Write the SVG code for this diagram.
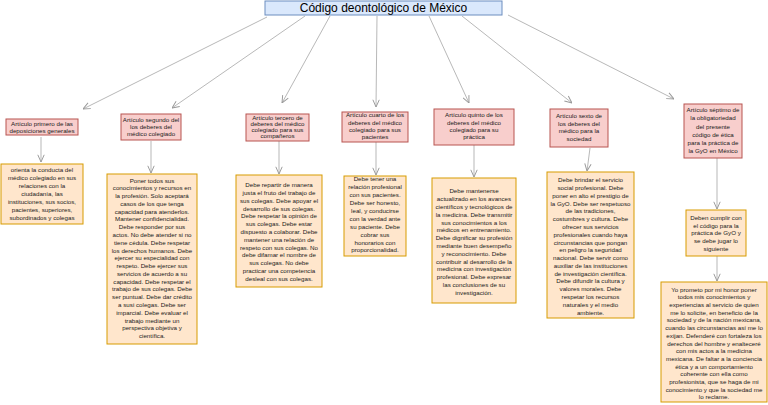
<svg xmlns="http://www.w3.org/2000/svg" width="768" height="405" viewBox="0 0 768 405">
<defs>
<marker id="arr" viewBox="0 0 10 10" refX="10" refY="5" markerWidth="8" markerHeight="8" markerUnits="userSpaceOnUse" orient="auto">
<path d="M1,1 L10,5 L1,9" fill="none" stroke="#999" stroke-width="1.2"/>
</marker>
<style>
.t{font-family:"Liberation Sans",Arial,sans-serif;font-size:6.2px;fill:#1a1a1a;text-anchor:middle}
.title{font-family:"Liberation Sans",Arial,sans-serif;font-size:12px;fill:#000;text-anchor:middle}
.pink{fill:#f8cecc;stroke:#b85450;stroke-width:1}
.org{fill:#ffe6cc;stroke:#d79b00;stroke-width:1}
.blue{fill:#dae8fc;stroke:#6c8ebf;stroke-width:1}
.c{fill:none;stroke:#999;stroke-width:0.7;marker-end:url(#arr)}
</style>
</defs>
<rect width="768" height="405" fill="#fff"/>
<g id="connectors">
<line class="c" x1="267" y1="17" x2="83" y2="109"/>
<line class="c" x1="305" y1="16" x2="172" y2="108"/>
<line class="c" x1="330" y1="16" x2="282" y2="103"/>
<line class="c" x1="377" y1="16" x2="376" y2="107"/>
<line class="c" x1="429" y1="16" x2="469" y2="103"/>
<line class="c" x1="462" y1="16" x2="572" y2="103"/>
<line class="c" x1="508" y1="15" x2="674" y2="99"/>
<line class="c" x1="41" y1="137" x2="41" y2="162"/>
<line class="c" x1="151" y1="141" x2="151" y2="173"/>
<line class="c" x1="279" y1="141" x2="279" y2="174"/>
<line class="c" x1="376" y1="142" x2="376" y2="175"/>
<line class="c" x1="474" y1="145" x2="474" y2="177"/>
<line class="c" x1="590" y1="148" x2="587" y2="171"/>
<line class="c" x1="717" y1="158" x2="717" y2="209"/>
<line class="c" x1="717" y1="256" x2="717" y2="281"/>
</g>
<g id="title">
<rect class="blue" x="265" y="1" width="237" height="14"/>
<text class="title" x="383.5" y="12.3">Código deontológico de México</text>
</g>
<g id="art1">
<rect class="pink" x="6" y="119" width="72" height="16"/>
<text class="t" x="42" y="125.5">Artículo primero de las</text>
<text class="t" x="42" y="133.3">deposiciones generales</text>
</g>
<g id="art1-body">
<rect class="org" x="1" y="164" width="82" height="60"/>
<text class="t" x="42" y="172.4">orienta la conducta del<tspan x="42" dy="7.9">médico colegiado en sus</tspan><tspan x="42" dy="7.9">relaciones con la</tspan><tspan x="42" dy="7.9">ciudadanía, las</tspan><tspan x="42" dy="7.9">instituciones, sus socios,</tspan><tspan x="42" dy="7.9">pacientes, superiores,</tspan><tspan x="42" dy="7.9">subordinados y colegas</tspan></text>
</g>
<g id="art2">
<rect class="pink" x="121" y="114" width="60" height="26"/>
<text class="t" x="151" y="122.3">Artículo segundo del<tspan x="151" dy="7">los deberes del</tspan><tspan x="151" dy="7">médico colegiado</tspan></text>
</g>
<g id="art2-body">
<rect class="org" x="107" y="174" width="90" height="170"/>
<text class="t" x="152" y="182.5">Poner todos sus<tspan x="152" dy="7.78">conocimientos y recursos en</tspan><tspan x="152" dy="7.78">la profesión. Solo aceptará</tspan><tspan x="152" dy="7.78">casos de los que tenga</tspan><tspan x="152" dy="7.78">capacidad para atenderlos.</tspan><tspan x="152" dy="7.78">Mantener confidencialidad.</tspan><tspan x="152" dy="7.78">Debe responder por sus</tspan><tspan x="152" dy="7.78">actos. No debe atender si no</tspan><tspan x="152" dy="7.78">tiene cédula. Debe respetar</tspan><tspan x="152" dy="7.78">los derechos humanos. Debe</tspan><tspan x="152" dy="7.78">ejercer su especialidad con</tspan><tspan x="152" dy="7.78">respeto. Debe ejercer sus</tspan><tspan x="152" dy="7.78">servicios de acuerdo a su</tspan><tspan x="152" dy="7.78">capacidad. Debe respetar el</tspan><tspan x="152" dy="7.78">trabajo de sus colegas. Debe</tspan><tspan x="152" dy="7.78">ser puntual.  Debe dar crédito</tspan><tspan x="152" dy="7.78">a susi colegas. Debe ser</tspan><tspan x="152" dy="7.78">imparcial. Debe evaluar el</tspan><tspan x="152" dy="7.78">trabajo mediante un</tspan><tspan x="152" dy="7.78">perspectiva objetiva y</tspan><tspan x="152" dy="7.78">científica.</tspan></text>
</g>
<g id="art3">
<rect class="pink" x="246" y="114" width="63" height="27"/>
<text class="t" x="277.5" y="119.5">Artículo tercero de<tspan x="277.5" dy="6.1">deberes del médico</tspan><tspan x="277.5" dy="6.1">colegiado para sus</tspan><tspan x="277.5" dy="6.1">compañeros</tspan></text>
</g>
<g id="art3-body">
<rect class="org" x="236" y="175" width="86" height="112"/>
<text class="t" x="279" y="187.3">Debe repartir de manera<tspan x="279" dy="7.78">justa el fruto del trabajo de</tspan><tspan x="279" dy="7.78">sus colegas. Debe apoyar el</tspan><tspan x="279" dy="7.78">desarrollo de sus colegas.</tspan><tspan x="279" dy="7.78">Debe respetar la opinión de</tspan><tspan x="279" dy="7.78">sus colegas. Debe estar</tspan><tspan x="279" dy="7.78">dispuesto a colaborar. Debe</tspan><tspan x="279" dy="7.78">mantener una relación de</tspan><tspan x="279" dy="7.78">respeto con sus colegas. No</tspan><tspan x="279" dy="7.78">debe difamar el nombre de</tspan><tspan x="279" dy="7.78">sus colegas. No debe</tspan><tspan x="279" dy="7.78">practicar una competencia</tspan><tspan x="279" dy="7.78">desleal con sus colegas.</tspan></text>
</g>
<g id="art4">
<rect class="pink" x="342" y="112" width="66" height="30"/>
<text class="t" x="375" y="117.3">Artículo cuarto de los<tspan x="375" dy="7.2">deberes del médico</tspan><tspan x="375" dy="7.2">colegiado para sus</tspan><tspan x="375" dy="7.2">pacientes</tspan></text>
</g>
<g id="art4-body">
<rect class="org" x="344" y="176" width="62" height="80"/>
<text class="t" x="375" y="181.3">Debe tener una<tspan x="375" dy="7.9">relación profesional</tspan><tspan x="375" dy="7.9">con sus pacientes.</tspan><tspan x="375" dy="7.9">Debe ser honesto,</tspan><tspan x="375" dy="7.9">leal, y conducirse</tspan><tspan x="375" dy="7.9">con la verdad ante</tspan><tspan x="375" dy="7.9">su paciente. Debe</tspan><tspan x="375" dy="7.9">cobrar sus</tspan><tspan x="375" dy="7.9">honorarios con</tspan><tspan x="375" dy="7.9">proporcionalidad.</tspan></text>
</g>
<g id="art5">
<rect class="pink" x="434" y="109" width="80" height="36"/>
<text class="t" x="474" y="117.3">Artículo quinto de los<tspan x="474" dy="7.3">deberes del médico</tspan><tspan x="474" dy="7.3">colegiado para su</tspan><tspan x="474" dy="7.3">práctica</tspan></text>
</g>
<g id="art5-body">
<rect class="org" x="432" y="178" width="84" height="125"/>
<text class="t" x="474" y="193.3">Debe mantenerse<tspan x="474" dy="7.8">actualizado en los avances</tspan><tspan x="474" dy="7.8">científicos y tecnológicos de</tspan><tspan x="474" dy="7.8">la medicina. Debe transmitir</tspan><tspan x="474" dy="7.8">sus conocimientos a los</tspan><tspan x="474" dy="7.8">médicos en entrenamiento.</tspan><tspan x="474" dy="7.8">Debe dignificar su profesión</tspan><tspan x="474" dy="7.8">mediante buen desempeño</tspan><tspan x="474" dy="7.8">y reconocimiento. Debe</tspan><tspan x="474" dy="7.8">contribuir al desarrollo de la</tspan><tspan x="474" dy="7.8">medicina con investigación</tspan><tspan x="474" dy="7.8">profesional. Debe expresar</tspan><tspan x="474" dy="7.8">las conclusiones de su</tspan><tspan x="474" dy="7.8">investigación.</tspan></text>
</g>
<g id="art6">
<rect class="pink" x="550" y="109" width="58" height="38"/>
<text class="t" x="579" y="118">Artículo sexto de<tspan x="579" dy="7.5">los deberes del</tspan><tspan x="579" dy="7.5">médico para la</tspan><tspan x="579" dy="7.5">sociedad</tspan></text>
</g>
<g id="art6-body">
<rect class="org" x="547" y="172" width="87" height="146"/>
<text class="t" x="590.5" y="182.3">Debe brindar el servicio<tspan x="590.5" dy="7.78">social profesional. Debe</tspan><tspan x="590.5" dy="7.78">poner en alto el prestigio de</tspan><tspan x="590.5" dy="7.78">la GyO. Debe ser respetuoso</tspan><tspan x="590.5" dy="7.78">de las tradiciones,</tspan><tspan x="590.5" dy="7.78">costumbres y cultura. Debe</tspan><tspan x="590.5" dy="7.78">ofrecer sus servicios</tspan><tspan x="590.5" dy="7.78">profesionales cuando haya</tspan><tspan x="590.5" dy="7.78">circunstancias que pongan</tspan><tspan x="590.5" dy="7.78">en peligro la seguridad</tspan><tspan x="590.5" dy="7.78">nacional. Debe servir como</tspan><tspan x="590.5" dy="7.78">auxiliar de las instituciones</tspan><tspan x="590.5" dy="7.78">de investigación científica.</tspan><tspan x="590.5" dy="7.78">Debe difundir la cultura y</tspan><tspan x="590.5" dy="7.78">valores morales. Debe</tspan><tspan x="590.5" dy="7.78">respetar los recursos</tspan><tspan x="590.5" dy="7.78">naturales y el medio</tspan><tspan x="590.5" dy="7.78">ambiente.</tspan></text>
</g>
<g id="art7">
<rect class="pink" x="684" y="104" width="58" height="54"/>
<text class="t" x="713" y="112.3">Artículo séptimo de<tspan x="713" dy="8.1">la obligatoriedad</tspan><tspan x="713" dy="8.1">del presente</tspan><tspan x="713" dy="8.1">código de ética</tspan><tspan x="713" dy="8.1">para la práctica de</tspan><tspan x="713" dy="8.1">la GyO en México</tspan></text>
</g>
<g id="art7-body">
<rect class="org" x="686" y="210" width="60" height="46"/>
<text class="t" x="716" y="219.6">Deben cumplir con<tspan x="716" dy="7.9">el código para la</tspan><tspan x="716" dy="7.9">práctica de GyO y</tspan><tspan x="716" dy="7.9">se debe jugar lo</tspan><tspan x="716" dy="7.9">siguiente</tspan></text>
</g>
<g id="juramento">
<rect class="org" x="661" y="282" width="106" height="120"/>
<text class="t" x="714" y="291.6">Yo prometo por mi honor poner<tspan x="714" dy="7.7">todos mis conocimientos y</tspan><tspan x="714" dy="7.7">experiencias al servicio de quien</tspan><tspan x="714" dy="7.7">me lo solicite, en beneficio de la</tspan><tspan x="714" dy="7.7">sociedad y de la nación mexicana,</tspan><tspan x="714" dy="7.7">cuando las circunstancias así me lo</tspan><tspan x="714" dy="7.7">exijan. Defenderé con fortaleza los</tspan><tspan x="714" dy="7.7">derechos del hombre y enalteceré</tspan><tspan x="714" dy="7.7">con mis actos a la medicina</tspan><tspan x="714" dy="7.7">mexicana. De faltar a la conciencia</tspan><tspan x="714" dy="7.7">ética y a un comportamiento</tspan><tspan x="714" dy="7.7">coherente con ella como</tspan><tspan x="714" dy="7.7">profesionista, que se haga de mi</tspan><tspan x="714" dy="7.7">conocimiento y que la sociedad me</tspan><tspan x="714" dy="7.7">lo reclame.</tspan></text>
</g>
</svg>
